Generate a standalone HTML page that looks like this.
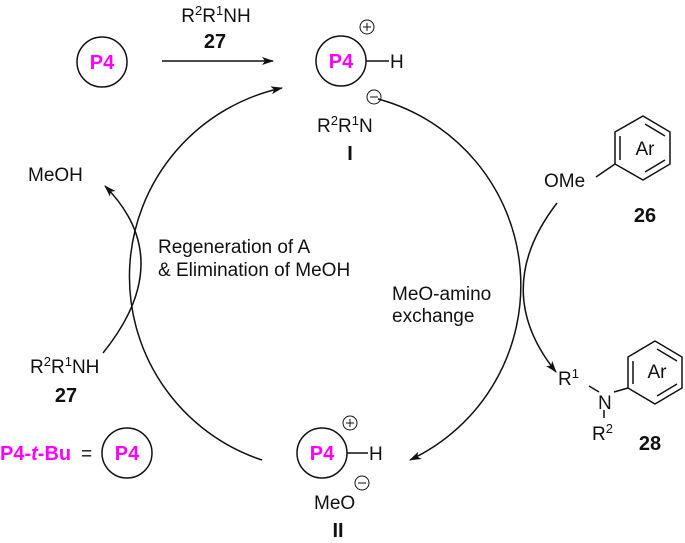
<!DOCTYPE html>
<html><head><style>
body{margin:0;background:#fff;}
svg{display:block;font-family:"Liberation Sans",Arial,sans-serif;}
.t{font-size:19px;fill:#111;}
.b{font-size:20px;font-weight:bold;fill:#111;}
.p{font-size:20px;font-weight:bold;fill:#f0f;}
.s{font-size:13px;}
</style></head><body>
<svg width="685" height="543" viewBox="0 0 685 543">
<defs><marker id="a" viewBox="0 0 12 8" refX="11" refY="4" markerWidth="12" markerHeight="8" markerUnits="userSpaceOnUse" orient="auto"><path d="M0,0 L12,4 L0,8 L3,4z" fill="#111"/></marker></defs>
<g fill="none" stroke="#111" stroke-width="1.5">
<circle cx="102" cy="62" r="25"/>
<circle cx="341" cy="61" r="25"/>
<circle cx="322" cy="453" r="25"/>
<circle cx="127" cy="453" r="25"/>
<line x1="162" y1="61" x2="273" y2="61" marker-end="url(#a)"/>
<line x1="366" y1="61" x2="389" y2="61"/>
<line x1="347" y1="453" x2="368" y2="453"/>
<path d="M378,99 A193,193 0 0 1 410,460" marker-end="url(#a)"/>
<path d="M262,460 A193,193 0 0 1 282,88" marker-end="url(#a)"/>
<path d="M103,353 Q178,260 105,186" marker-end="url(#a)"/>
<path d="M557,203 Q490,290 556,372" marker-end="url(#a)"/>
<circle cx="367" cy="27" r="7" stroke-width="1"/>
<circle cx="374" cy="97" r="7" stroke-width="1"/>
<circle cx="350" cy="423" r="7" stroke-width="1"/>
<circle cx="362" cy="483" r="7" stroke-width="1"/>
<path d="M643,116 L670,132 L670,164 L643,180 L615,164 L615,132Z"/>
<path d="M620,136 L620,160 M645,124 L665,136 M645,172 L665,160"/>
<line x1="596" y1="177" x2="615" y2="164"/>
<path d="M655,341 L682,357 L682,388 L655,404 L628,388 L628,357Z"/>
<path d="M633,361 L633,384 M657,349 L677,361 M657,396 L677,384"/>
<line x1="589" y1="386" x2="599" y2="392"/>
<line x1="614" y1="392" x2="628" y2="388"/>
<line x1="604" y1="410" x2="604" y2="418"/>
</g>
<g stroke="#111" stroke-width="1">
<line x1="363" y1="27" x2="371" y2="27"/><line x1="367" y1="23" x2="367" y2="31"/>
<line x1="370" y1="97" x2="378" y2="97"/>
<line x1="346" y1="423" x2="354" y2="423"/><line x1="350" y1="419" x2="350" y2="427"/>
<line x1="358" y1="483" x2="366" y2="483"/>
</g>
<text class="p" x="102" y="69" text-anchor="middle">P4</text>
<text class="p" x="341" y="68" text-anchor="middle">P4</text>
<text class="p" x="322" y="460" text-anchor="middle">P4</text>
<text class="p" x="127" y="460" text-anchor="middle">P4</text>
<text class="p" x="0" y="460">P4-<tspan font-style="italic">t</tspan>-Bu</text>
<text class="t" x="81" y="460">=</text>
<text class="t" x="216" y="22" text-anchor="middle">R<tspan class="s" dy="-7">2</tspan><tspan dy="7">R</tspan><tspan class="s" dy="-7">1</tspan><tspan dy="7">NH</tspan></text>
<text class="b" x="215" y="48" text-anchor="middle">27</text>
<text class="t" x="390" y="68">H</text>
<text class="t" x="317" y="132">R<tspan class="s" dy="-7">2</tspan><tspan dy="7">R</tspan><tspan class="s" dy="-7">1</tspan><tspan dy="7">N</tspan></text>
<text class="b" x="350" y="160" text-anchor="middle">I</text>
<text class="t" x="369" y="460">H</text>
<text class="t" x="314" y="509">MeO</text>
<text class="b" x="338" y="537" text-anchor="middle">II</text>
<text class="t" x="28" y="181">MeOH</text>
<text class="t" x="30" y="373">R<tspan class="s" dy="-7">2</tspan><tspan dy="7">R</tspan><tspan class="s" dy="-7">1</tspan><tspan dy="7">NH</tspan></text>
<text class="b" x="66" y="402" text-anchor="middle">27</text>
<text class="t" x="158" y="253">Regeneration of A</text>
<text class="t" x="158" y="276">&amp; Elimination of MeOH</text>
<text class="t" x="392" y="300">MeO-amino</text>
<text class="t" x="392" y="322">exchange</text>
<text class="t" x="544" y="187">OMe</text>
<text class="t" x="645" y="155" text-anchor="middle">Ar</text>
<text class="b" x="645" y="222" text-anchor="middle">26</text>
<text class="t" x="558" y="385">R<tspan class="s" dy="-7">1</tspan></text>
<text class="t" x="598" y="409">N</text>
<text class="t" x="592" y="440">R<tspan class="s" dy="-7">2</tspan></text>
<text class="t" x="657" y="378" text-anchor="middle">Ar</text>
<text class="b" x="650" y="450" text-anchor="middle">28</text>
</svg>
</body></html>
